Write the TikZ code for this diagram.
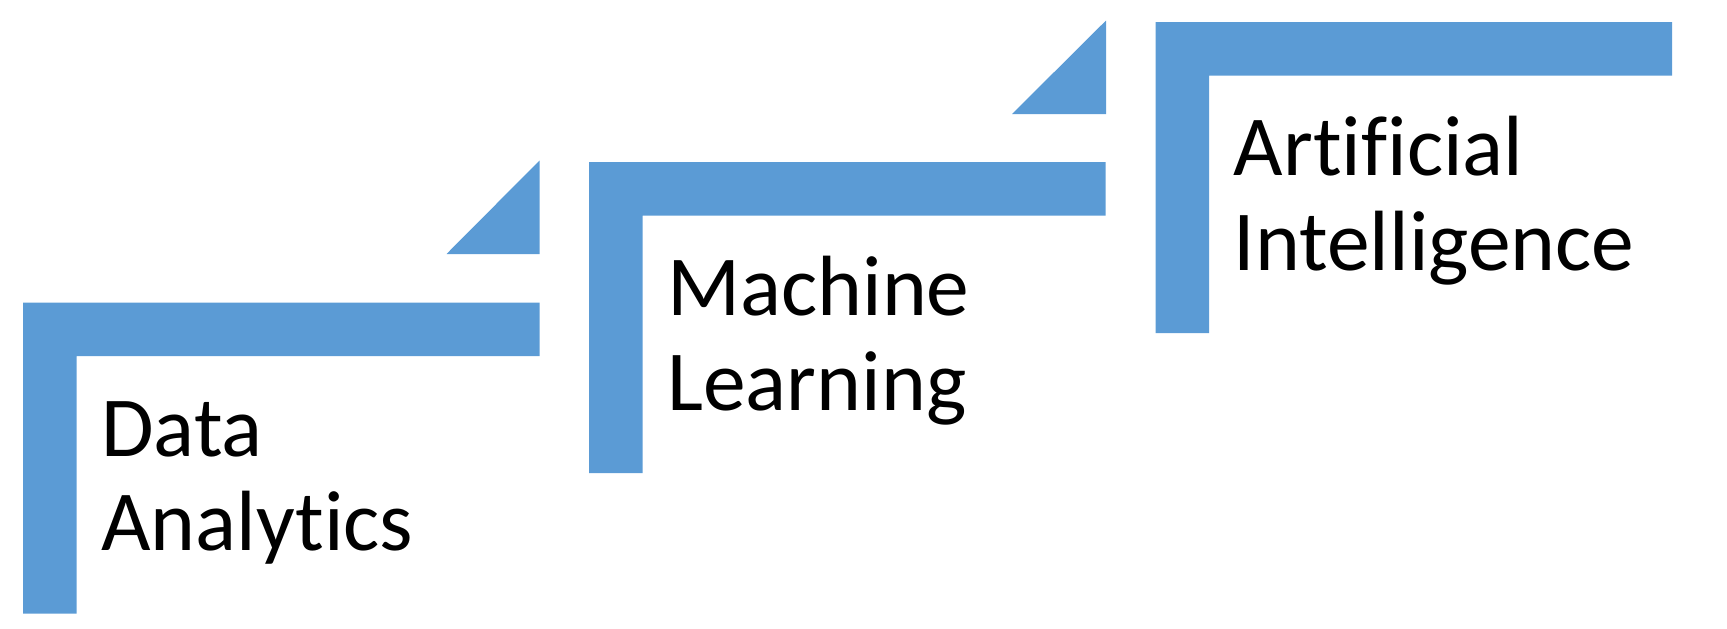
\documentclass[tikz,border=0pt]{standalone}
\usepackage{fontspec}
\setmainfont[Ligatures={NoCommon,NoRare,NoContextual}]{Carlito}
\definecolor{stepblue}{HTML}{5B9BD5}
\tikzset{
  lshape/.style={fill=stepblue},
  tri/.style={fill=stepblue},
  lbl/.style={anchor=base west, inner sep=0pt, text=black,
    font=\fontsize{42.75pt}{47.5pt}\selectfont}
}
\begin{document}
\begin{tikzpicture}[x=0.5pt,y=-0.5pt]
\useasboundingbox (0,0) rectangle (1727,628);
% L-shaped steps
\foreach \x/\y in {23/302.5, 589/162.2, 1155.5/22}{
  \fill[lshape] (\x,\y) -- ++(516.5,0) -- ++(0,53.5) -- ++(-463,0)
    -- ++(0,257.5) -- ++(-53.5,0) -- cycle;
}
% triangles
\fill[tri] (539.5,160.5) -- (539.5,254) -- (446.5,254) -- cycle;
\fill[tri] (1106,20.5) -- (1106,114) -- (1012,114) -- cycle;
% labels
\node[lbl] (da1) at (101,456) {Data};
\node[lbl] (da2) at (101,550.5) {Analytics};
\node[lbl] (ml1) at (667,315.7) {Machine};
\node[lbl] (ml2) at (667,410.2) {Learning};
\node[lbl] (ai1) at (1233.5,175.5) {Artificial};
\node[lbl] (ai2) at (1233.5,270) {Intelligence};
\end{tikzpicture}
\end{document}
